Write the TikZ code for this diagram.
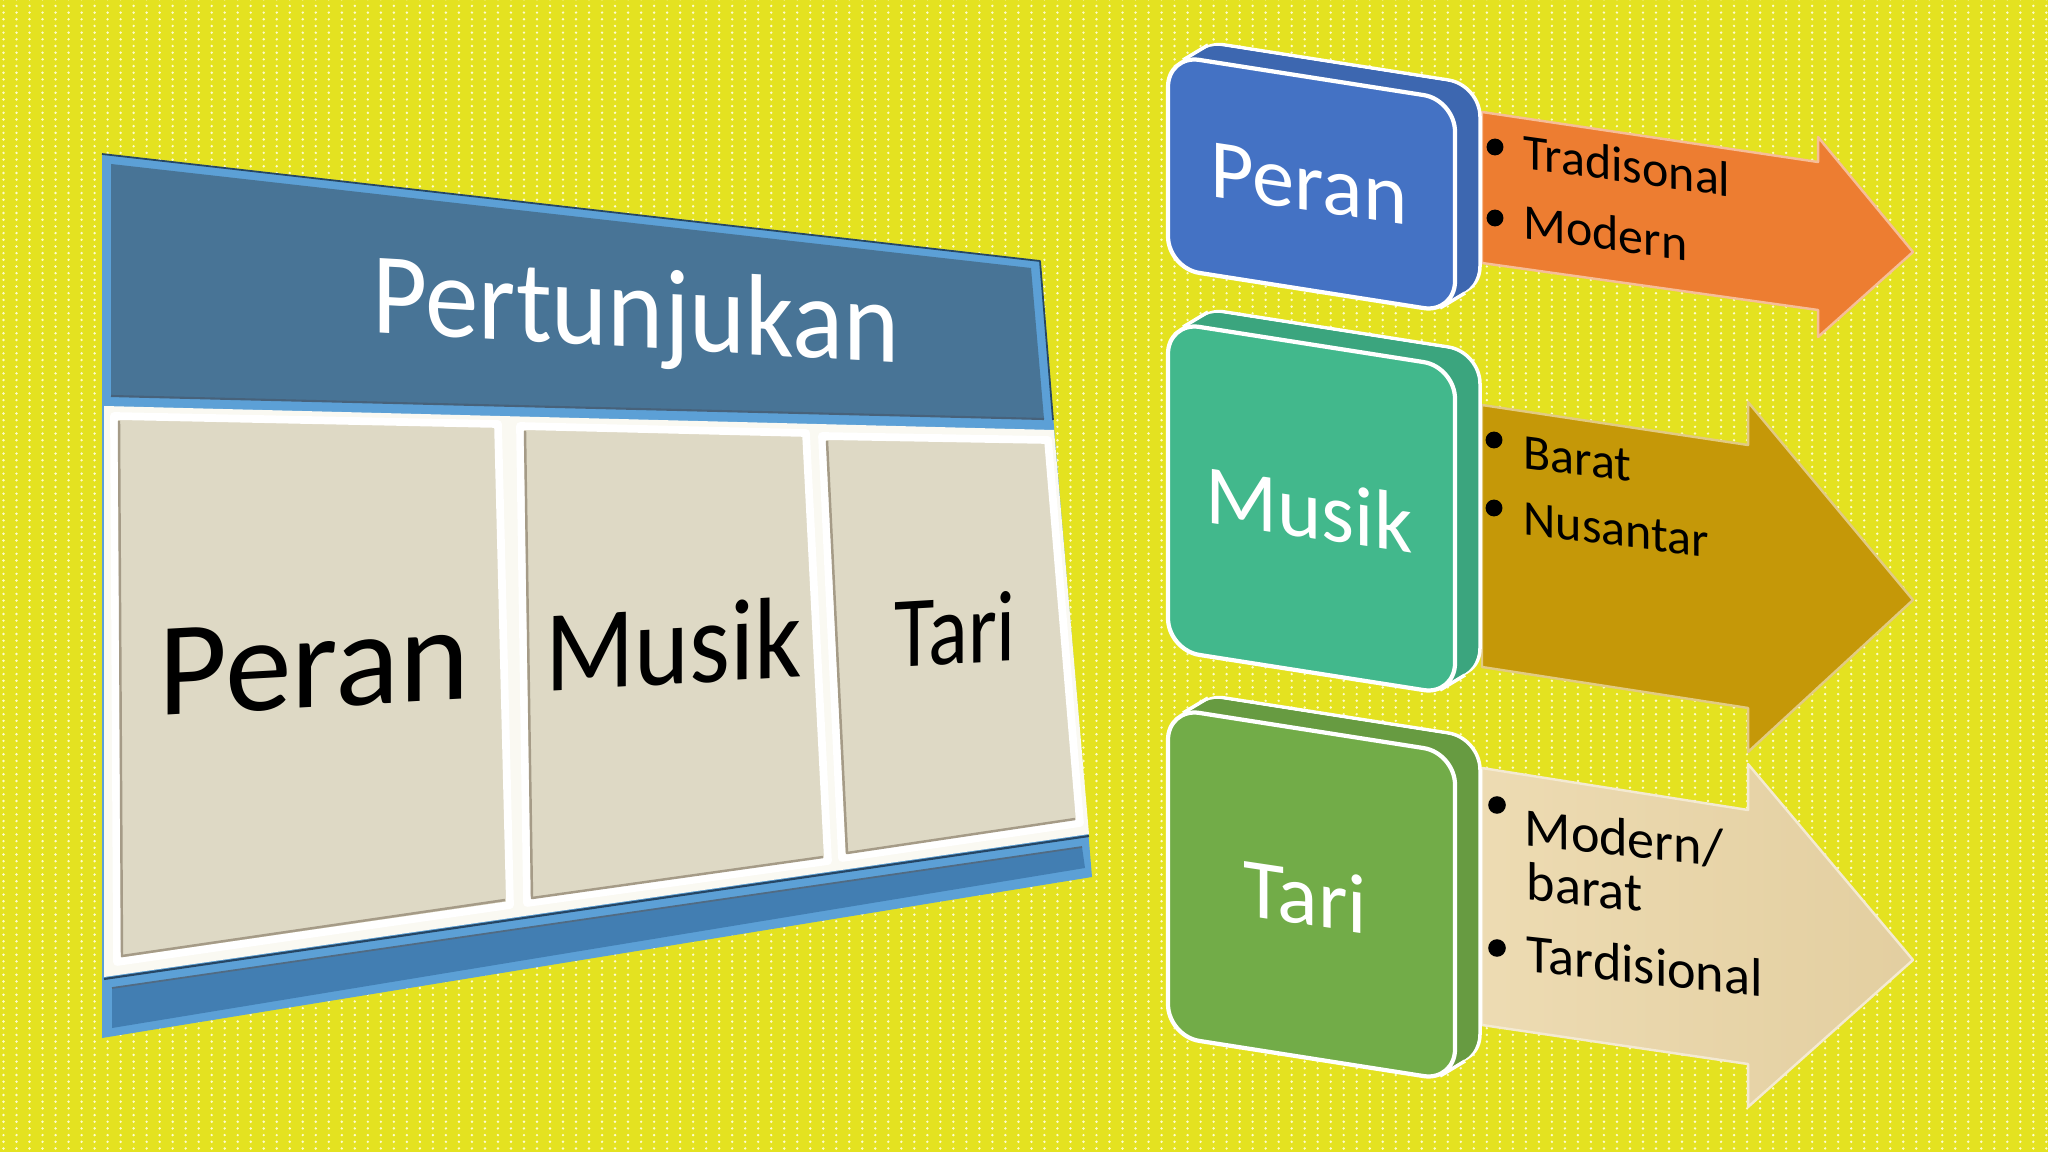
\documentclass[tikz,border=0pt]{standalone}
\usepackage{fontspec}
\setmainfont{Carlito}
\usetikzlibrary{patterns}
\pgfdeclarepatternformonly{ydots}{\pgfqpoint{0.4pt}{0.4pt}}{\pgfqpoint{1.6pt}{1.6pt}}{\pgfqpoint{3.7pt}{1.9pt}}{\pgfpathcircle{\pgfqpoint{1pt}{1pt}}{0.38pt}\pgfusepath{fill}}
\definecolor{bgyellow}{RGB}{228,226,32}
\definecolor{dotc}{RGB}{254,252,205}
\definecolor{framelight}{RGB}{92,160,214}
\definecolor{headblue}{RGB}{72,116,150}
\definecolor{darkedge}{RGB}{38,70,100}
\definecolor{beige}{RGB}{222,217,197}
\definecolor{cream}{RGB}{250,249,242}
\definecolor{shadowc}{RGB}{165,155,135}
\definecolor{barblue}{RGB}{66,126,178}
\definecolor{peranblue}{RGB}{68,114,196}
\definecolor{musikteal}{RGB}{66,184,140}
\definecolor{tarigreen}{RGB}{114,172,72}
\definecolor{orangearr}{RGB}{237,125,49}
\definecolor{goldarr}{RGB}{197,152,8}
\definecolor{tanarr}{RGB}{234,213,165}
\newcommand{\facepath}[2]{(1168,#1) -- (1455,#1+45) -- (1455,#1+#2+45) -- (1168,#1+#2) -- cycle}
\newcommand{\tdbox}[3]{%
  \begin{scope}[shift={(25,-15)}]
    \path[fill=#1!90!black, draw=white, line width=1pt, rounded corners=9pt] \facepath{#2}{#3};
  \end{scope}
  \foreach \t in {0.1,0.2,0.3,0.4,0.5,0.6,0.7,0.8,0.9} {
    \begin{scope}[shift={(25*\t,-15*\t)}]
      \fill[#1!90!black, rounded corners=9pt] \facepath{#2}{#3};
    \end{scope}
  }
  \draw[white, line width=1pt] (1183,#2+5) -- (1208,#2-10);
  \draw[white, line width=1pt] (1440,#2+#3+40) -- (1465,#2+#3+25);
  \path[fill=#1, draw=white, line width=1.2pt, rounded corners=9pt] \facepath{#2}{#3};
}
\tikzset{
  panel/.style={fill=beige, draw=white, line width=2.2pt},
  arrowshape/.style={fill=#1, draw=#1!50!white, line width=0.7pt},
  boxtext/.style={text=white, font=\fontsize{24}{29}\selectfont, inner sep=0pt, yslant=-0.15},
  arrtext/.style={text=black, font=\fontsize{14.2}{17}\selectfont, inner sep=0pt, anchor=base west},
  arrtextb/.style={text=black, font=\fontsize{15.4}{18}\selectfont, inner sep=0pt, anchor=base west},
  bigtext/.style={text=black, inner sep=0pt, anchor=base west}
}
\begin{document}
\begin{tikzpicture}[x=0.01cm,y=-0.01cm,line join=round]
\useasboundingbox (0,0) rectangle (2048,1152);
\fill[bgyellow] (0,0) rectangle (2048,1152);
\fill[pattern=ydots, pattern color=dotc] (0,0) rectangle (2048,1152);

% ---------- left panel ----------
\fill[framelight] (102,154) -- (1040,261) -- (1092,877) -- (102,1038) -- cycle;
\draw[darkedge, line width=0.5pt] (102,154) -- (1040,261) -- (1053,420);
\fill[headblue] (111,164) -- (1031,268) -- (1044,419) -- (111,396) -- cycle;
\draw[darkedge!85, line width=0.6pt] (111,396) -- (1044,419);
\fill[cream] (104,406) -- (1054,430) -- (1089,834) -- (104,977) -- cycle;
\draw[darkedge, line width=0.6pt] (104,979) -- (1089,836);
\fill[barblue] (112,988) -- (1082,847) -- (1085,868) -- (112,1028) -- cycle;
\draw[darkedge!80, line width=0.5pt] (112,988) -- (1082,847);

\path[panel] (114,416) -- (498,424) -- (510,905) -- (117,962) -- cycle;
\path[panel] (520,426) -- (806,433) -- (828,861) -- (527,903) -- cycle;
\path[panel] (822,436) -- (1048,440) -- (1080,823) -- (842,858) -- cycle;
\draw[shadowc, line width=0.7pt] (119,421) -- (122,956) -- (505,900);
\draw[shadowc, line width=0.7pt] (525,431) -- (532,898) -- (823,857);
\draw[shadowc, line width=0.7pt] (827,441) -- (847,853) -- (1075,819);

\node[text=white, inner sep=0pt, anchor=base west, font=\fontsize{33}{40}\selectfont, yslant=-0.059, xscale=0.92] (title) at (372,332) {Pertunjukan};
\node[bigtext, font=\fontsize{38}{46}\selectfont, yslant=0.056] (lperan) at (158,716) {Peran};
\node[bigtext, font=\fontsize{33}{40}\selectfont, yslant=0.06, xscale=0.9] (lmusik) at (545,692) {Musik};
\node[bigtext, font=\fontsize{28.7}{34}\selectfont, yslant=0.06, xscale=0.82] (ltari) at (894,668) {Tari};

% ---------- arrows ----------
\path[arrowshape=orangearr] (1482,112) -- (1818,162) -- (1818,137) -- (1913,252) -- (1818,337) -- (1818,310) -- (1482,263) -- cycle;
\path[arrowshape=goldarr] (1482,405) -- (1748,445) -- (1748,402) -- (1913,600) -- (1748,752) -- (1748,708) -- (1482,667) -- cycle;
\path[arrowshape=tanarr, left color=tanarr!85!white, right color=tanarr!97!black] (1482,768) -- (1748,810) -- (1748,764) -- (1913,960) -- (1748,1107) -- (1748,1064) -- (1482,1025) -- cycle;

% ---------- 3D boxes ----------
\tdbox{peranblue}{55}{213}
\tdbox{musikteal}{322}{328}
\tdbox{tarigreen}{708}{328}

\node[boxtext] (bperan) at (1309,184) {Peran};
\node[boxtext] (bmusik) at (1309,509) {Musik};
\node[boxtext] (btari) at (1305,896) {Tari};

% ---------- bullet texts ----------
\fill[black] (1495,147) circle[radius=2.4pt];
\fill[black] (1495,218) circle[radius=2.4pt];
\node[arrtext, yslant=-0.138] (t1) at (1523,168) {Tradisonal};
\node[arrtext, yslant=-0.138] (t2) at (1523,238) {Modern};

\fill[black] (1494,440) circle[radius=2.4pt];
\fill[black] (1494,508) circle[radius=2.4pt];
\node[arrtext, yslant=-0.126] (m1) at (1523,468) {Barat};
\node[arrtext, yslant=-0.126] (m2) at (1523,534) {Nusantar};

\fill[black] (1497,805) circle[radius=2.5pt];
\fill[black] (1497,948) circle[radius=2.5pt];
\node[arrtextb, yslant=-0.11] (d1) at (1524,845) {Modern/};
\node[arrtextb, yslant=-0.11] (d2) at (1526,899) {barat};
\node[arrtextb, yslant=-0.11] (d3) at (1526,971) {Tardisional};
\end{tikzpicture}
\end{document}
